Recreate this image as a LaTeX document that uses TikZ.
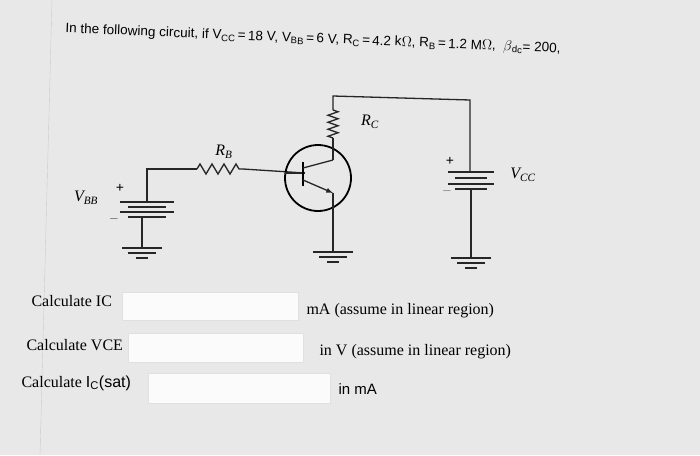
\documentclass[tikz,border=0pt]{standalone}
\usepackage{fontspec}
\setmainfont{Liberation Serif}
\newfontfamily\arial{Liberation Sans}
\usetikzlibrary{decorations.pathmorphing}
\begin{document}
\begin{tikzpicture}[x=1pt,y=-1pt,
  wire/.style={line width=1.3pt,black!85},
  plate/.style={line width=2pt,black!85},
  res/.style={wire,decorate,decoration={zigzag,segment length=12pt,amplitude=5pt}},
  resv/.style={wire,decorate,decoration={zigzag,segment length=7pt,amplitude=5pt}},
  ansbox/.style={draw=black!12,fill=white!70!gray!10,line width=0.8pt},
  lbl/.style={anchor=west,font=\fontsize{16}{18}\selectfont},
  sym/.style={font=\fontsize{16}{18}\selectfont\itshape}]
\fill[black!9] (0,0) rectangle (700,455);
\useasboundingbox (0,0) rectangle (700,455);
\draw[black!20] (52,0) -- (40,455);
\node[anchor=west,rotate=-2.3,font=\arial\fontsize{13.5}{15}\selectfont] (title) at (62,29)
 {In the following circuit, if V\textsubscript{CC}\,=\,18 V, V\textsubscript{BB}\,=\,6 V, R\textsubscript{C}\,=\,4.2 k\textbf{$\Omega$}, R\textsubscript{B}\,=\,1.2 M$\Omega$,\ \ $\beta$\textsubscript{dc}= 200,};
% VBB battery
\coordinate (b1) at (147,169);
\coordinate (rb1) at (197,169);
\coordinate (rb2) at (243,169);
\coordinate (base) at (305,173);
\draw[wire] (147,202) -- (b1) -- (rb1);
\draw[res] (rb1) -- (rb2);
\draw[wire] (rb2) -- (base);
\draw[plate] (120,202) -- (174,202);
\draw[plate] (128,207) -- (166,207);
\draw[plate] (120,212) -- (174,212);
\draw[plate] (128,217) -- (166,217);
\draw[wire] (142,217) -- (142,248);
\draw[plate] (122,248)--(162,248) (128,253)--(156,253) (136,258)--(148,258);
\node[font=\Large\bfseries] (vbbp) at (120,188) {+};
\node[font=\Large,black!60] (vbbm) at (114,221) {--};
\node[sym] (vbb) at (86,198) {V\textsubscript{BB}};
\node[sym] (rblab) at (224,152) {R\textsubscript{B}};
% transistor
\node[circle,draw,line width=1.8pt,minimum size=66pt] (q) at (318,178) {};
\draw[wire] (base) -- (285,173);
\draw[line width=2.5pt] (303,162) -- (303,186);
\draw[wire] (303,168) -- (333,160);
\draw[wire,-latex] (303,180) -- (333,193);
\draw[wire] (333,160) -- (333,138);
\draw[resv] (333,138) -- (333,110);
\draw[wire] (333,110) -- (333,96) -- (470,100) -- (470,172);
\node[sym] (rclab) at (370,122) {R\textsubscript{C}};
\draw[wire] (333,193) -- (333,252);
\draw[plate] (313,252)--(353,252) (319,257)--(347,257) (327,262)--(339,262);
% VCC battery
\draw[plate] (448,172) -- (494,172);
\draw[plate] (455,178) -- (487,178);
\draw[plate] (448,184) -- (494,184);
\draw[plate] (455,189) -- (487,189);
\draw[wire] (471,189) -- (471,258);
\draw[plate] (451,258)--(491,258) (457,263)--(485,263) (465,268)--(477,268);
\node[font=\Large\bfseries] (vccp) at (450,161) {+};
\node[font=\Large,black!50] (vccm) at (447,193) {--};
\node[sym] (vcclab) at (523,175) {V\textsubscript{CC}};
% questions
\node[lbl] (q1) at (28,301) {Calculate IC};
\draw[ansbox] (122,292) rectangle (298,320);
\node[lbl] (a1) at (303,311) {mA (assume in linear region)};
\node[lbl] (q2) at (23,345) {Calculate VCE};
\draw[ansbox] (128,333) rectangle (303,362);
\node[lbl] (a2) at (316,352) {in V (assume in linear region)};
\node[lbl] (q3) at (18,383) {Calculate {\arial I\textsubscript{C}(sat)}};
\draw[ansbox] (148,373) rectangle (330,403);
\node[lbl,font=\arial\fontsize{15}{17}\selectfont] (a3) at (335,389) {in mA};
\end{tikzpicture}
\end{document}
